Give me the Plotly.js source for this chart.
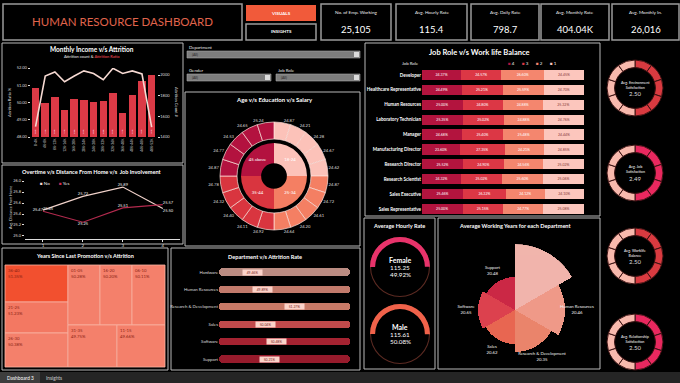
<!DOCTYPE html>
<html><head><meta charset="utf-8">
<script src="https://cdn.plot.ly/plotly-3.0.1.min.js"></script>
<style>html,body{margin:0;padding:0;background:#000;overflow:hidden}#chart{width:680px;height:383px}</style>
</head><body><div id="chart"></div>
<script>
// ---------------- DATA ----------------
const kpiLabels = ['No. of Emp. Working', 'Avg. Hourly Rate', 'Avg. Daily Rate', 'Avg. Monthly Rate', 'Avg. Monthly In.'];
const kpiValues = ['25,105', '115.4', '798.7', '404.04K', '26,016'];

const incomeBins = ['0-4K','4K-8K','8K-12K','12K-16K','16K-20K','20K-24K','24K-28K','28K-32K','32K-36K','36K-40K','40K-44K','44K-48K','48K-52K'];
const attritionRatio = [50.82, 49.95, 50.30, 49.57, 50.18, 50.14, 50.03, 50.10, 50.53, 49.37, 50.42, 51.25, 51.59];
const attritionCount = [1500, 1990, 2030, 1935, 1990, 2040, 2015, 1955, 2065, 2015, 2040, 2010, 1495];

const jobInvolvement = [1, 2, 3, 4];
const distanceNo = [25.47, 25.72, 25.89, 25.50];
const distanceYes = [25.45, 25.25, 25.51, 25.57];

const promoYears = ['36-40', '21-25', '26-30', '01-05', '16-20', '06-10', '31-35', '11-15'];
const promoAttrition = [51.35, 51.23, 50.38, 50.28, 50.20, 50.11, 49.75, 49.66];
const promoEmployees = [2330, 1950, 2140, 1920, 1920, 1980, 2060, 2020];

const departments = ['Hardware', 'Human Resources', 'Research & Development', 'Sales', 'Software', 'Support'];
const deptAttrition = [49.46, 49.89, 51.27, 50.04, 50.48, 50.21];
const deptWorkYears = [20.48, 20.46, 20.35, 20.62, 20.65, 20.48];
const deptWedgeSize = [66, 50, 42, 34, 37, 33];

const ageGroups = ['18-24', '25-34', '35-44', '45 above'];
const ageShare = [25, 25, 25, 25];
const eduSalary = ['24.87','24.21','24.28','24.67','24.62',
                   '24.87','24.72','24.61','24.20','24.64',
                   '24.92','24.11','24.40','24.32','24.78',
                   '24.87','24.77','24.53','24.65','25.24'];
const eduShare = [5,5,5,5,5, 5,5,5,5,5, 5,5,5,5,5, 5,5,5,5,5];

const jobRoles = ['Developer','Healthcare Representative','Human Resources','Laboratory Technician','Manager','Manufacturing Director','Research Director','Research Scientist','Sales Executive','Sales Representative'];
const wlb4 = [24.37, 24.49, 25.00, 25.35, 24.68, 23.60, 25.52, 24.32, 25.46, 25.00];
const wlb3 = [24.57, 25.21, 24.80, 25.02, 25.40, 27.35, 24.90, 25.02, 26.32, 25.15];
const wlb2 = [26.60, 25.59, 24.88, 24.88, 25.48, 24.21, 24.56, 25.60, 24.12, 24.77];
const wlb1 = [24.45, 24.70, 25.32, 24.76, 24.44, 24.85, 25.02, 25.06, 24.10, 25.08];

const genders = ['Female', 'Male'];
const genderHourly = [115.25, 115.61];
const genderShare = [49.92, 50.08];

const satLabels = ['Avg. Environment<br>Satisfaction', 'Avg. Job<br>Satisfaction', 'Avg. Worklife<br>Balance', 'Avg. Relationship<br>Satisfaction'];
const satValues = [2.50, 2.49, 2.50, 2.50];

// ---------------- HELPERS ----------------
const W = 680, H = 383;
const px = x => x / W, py = y => 1 - y / H;
const dx = (a, b) => [a / W, b / W];
const dy = (top, bot) => [1 - bot / H, 1 - top / H];
const FONT = 'Lato, "Open Sans", sans-serif';
const shapes = [], annotations = [];
function box(x0, y0, x1, y1, o = {}) {
  shapes.push({type: 'rect', xref: 'paper', yref: 'paper', x0: px(x0), x1: px(x1), y0: py(y1), y1: py(y0),
    line: {color: o.line || '#b8b8b8', width: o.lw === undefined ? 1 : o.lw}, fillcolor: o.fill || 'rgba(0,0,0,0)', layer: 'below'});
}
function txt(x, y, text, size, color, o = {}) {
  annotations.push({xref: 'paper', yref: 'paper', x: px(x), y: py(y), text: text, showarrow: false,
    font: {family: FONT, size: size, color: color || '#fff', weight: o.weight || 'normal'},
    xanchor: o.xanchor || 'center', yanchor: o.yanchor || 'middle', textangle: o.angle || 0, align: o.align || 'center'});
}
const traces = [];

// ---------------- HEADER ----------------
box(3, 4, 242, 40, {line: '#9a9a9a', lw: 1.5});
txt(122, 22, 'HUMAN RESOURCE DASHBOARD', 11.5, '#e0644c');
box(246, 5, 316, 21, {fill: '#f15a3a', lw: 0});
txt(281, 13, 'VISUALS', 4.5, '#fff', {weight: 'bold'});
box(246, 24, 316, 40, {line: '#9a9a9a', lw: 1.5});
txt(281, 32, 'INSIGHTS', 4.5, '#fff', {weight: 'bold'});
const kpiX = [[321, 391], [396, 467], [471, 539], [541, 609], [612, 679]];
kpiLabels.forEach((l, i) => {
  box(kpiX[i][0], 4, kpiX[i][1], 40, {line: '#9a9a9a', lw: 1.5});
  const c = (kpiX[i][0] + kpiX[i][1]) / 2;
  txt(c, 12, l, 4.6, '#eee');
  txt(c, 29, kpiValues[i], 9.5, '#fff');
});

// ---------------- MONTHLY INCOME ----------------
box(2, 43, 183, 163);
txt(92, 50, 'Monthly Income v/s Attrition', 6.5, '#fff', {weight: 'bold'});
txt(92, 57, 'Attrition count &amp; <span style="color:#ff4d5a">Attrition Ratio</span>', 4, '#eee');
txt(9, 102, 'Attrition Ratio %', 4, '#ddd', {angle: -90});
txt(177, 102, 'Attrition Count #', 4, '#ddd', {angle: 90});
const RATIO_RANGE = [48, 52];
traces.push({type: 'bar', x: incomeBins, y: attritionRatio.map(v => v - RATIO_RANGE[0]), base: RATIO_RANGE[0],
  xaxis: 'x', yaxis: 'y', width: 0.78, marker: {color: '#db3a46'},
  text: attritionRatio.map(v => v.toFixed(2) + '%'), textposition: 'inside', insidetextanchor: 'start', textangle: -90,
  textfont: {size: 3.3, color: '#fde', family: FONT}, cliponaxis: true});
traces.push({type: 'scatter', mode: 'lines', x: incomeBins, y: attritionCount, xaxis: 'x', yaxis: 'y2',
  line: {color: '#f6d9d2', width: 1.6}});

// ---------------- OVERTIME ----------------
box(2, 165, 183, 244);
txt(92, 171, 'Overtime v/s Distance From Home v/s  Job Involvement', 5.6, '#fff', {weight: 'bold'});
txt(10, 208, 'Avg. Distance From Home', 3.8, '#ddd', {angle: -90});
txt(38, 183, '<span style="color:#f6d6ce">■</span> No', 4.5, '#eee', {xanchor: 'left'});
txt(57, 183, '<span style="color:#d02d58">■</span> Yes', 4.5, '#eee', {xanchor: 'left'});
traces.push({type: 'scatter', mode: 'lines+text', x: jobInvolvement, y: distanceNo, xaxis: 'x3', yaxis: 'y3',
  line: {color: '#f2d3cb', width: 1.2}, text: distanceNo.map(v => v.toFixed(2)),
  textposition: ['middle left', 'top center', 'top center', 'bottom right'], textfont: {size: 4, color: '#eee', family: FONT}, cliponaxis: false});
traces.push({type: 'scatter', mode: 'lines+text', x: jobInvolvement, y: distanceYes, xaxis: 'x3', yaxis: 'y3',
  line: {color: '#b32a4e', width: 1.2}, text: distanceYes.map(v => v.toFixed(2)),
  textposition: ['top right', 'bottom center', 'top center', 'top right'], textfont: {size: 4, color: '#eee', family: FONT}, cliponaxis: false});

// ---------------- FILTERS ----------------
txt(187, 47, 'Department', 4.3, '#eee', {xanchor: 'left'});
box(187, 51, 360, 58, {fill: '#7d7d7d', line: '#aaa', lw: 0.6});
box(354, 52, 359, 57, {fill: '#dcdcdc', lw: 0});
txt(190, 54.5, '(All)', 3.5, '#222', {xanchor: 'left'});
txt(187, 70, 'Gender', 4.3, '#eee', {xanchor: 'left'});
box(187, 74, 271, 81, {fill: '#7d7d7d', line: '#aaa', lw: 0.6});
box(265, 75, 270, 80, {fill: '#dcdcdc', lw: 0});
txt(190, 77.5, '(All)', 3.5, '#222', {xanchor: 'left'});
txt(276, 70, 'Job Role', 4.3, '#eee', {xanchor: 'left'});
box(276, 74, 360, 81, {fill: '#7d7d7d', line: '#aaa', lw: 0.6});
box(354, 75, 359, 80, {fill: '#dcdcdc', lw: 0});
txt(279, 77.5, '(All)', 3.5, '#222', {xanchor: 'left'});

// ---------------- SUNBURST (pies) ----------------
box(185, 92, 360, 246);
txt(274, 100, 'Age v/s Education v/s Salary', 6, '#fff', {weight: 'bold'});
const ageColors = ['#fcc2b9', '#f47f63', '#d9353f', '#b3123f'];
traces.push({type: 'pie', values: eduShare, text: eduSalary, textinfo: 'text', textposition: 'outside', sort: false,
  direction: 'clockwise', rotation: 0, hole: 0.685, domain: {x: dx(220, 328), y: dy(122, 230)},
  marker: {colors: eduShare.map((v, i) => ageColors[Math.floor(i / 5)]), line: {color: '#fde0da', width: 0.7}},
  outsidetextfont: {size: 4.2, color: '#ddd', family: FONT}, showlegend: false, hoverinfo: 'skip'});
traces.push({type: 'pie', values: ageShare, labels: ageGroups, text: ageGroups, textinfo: 'text', textposition: 'inside', sort: false,
  direction: 'clockwise', rotation: 0, hole: 0.39, domain: {x: dx(241, 307), y: dy(143, 209)},
  marker: {colors: ageColors, line: {width: 0}}, insidetextorientation: 'horizontal',
  insidetextfont: {size: 4.3, color: '#fff', family: FONT}, showlegend: false, hoverinfo: 'skip'});

// ---------------- JOB ROLE vs WLB ----------------
box(365, 43, 600, 216);
txt(479, 52, 'Job Role v/s Work life Balance', 7.5, '#fff', {weight: 'bold'});
txt(410, 63, 'Job Role', 4.3, '#eee');
const wlbColors = ['#b3143e', '#dc3745', '#f4866e', '#fcc6bd'];
const wlbText = ['#fff', '#fff', '#fff', '#8a3a3a'];
[['4', wlb4], ['3', wlb3], ['2', wlb2], ['1', wlb1]].forEach((s, k) => {
  traces.push({type: 'bar', orientation: 'h', y: jobRoles, x: s[1], name: s[0], xaxis: 'x5', yaxis: 'y5', width: 0.68,
    marker: {color: wlbColors[k], line: {width: 0}}, text: s[1].map(v => v.toFixed(2) + '%'), textposition: 'inside',
    insidetextanchor: 'middle', textangle: 0, textfont: {size: 4.3, color: wlbText[k], family: FONT}});
});
['4', '3', '2', '1'].forEach((n, k) => {
  txt(506 + k * 14, 63, '<span style="color:' + wlbColors[k] + '">■</span> ' + n, 4.5, '#eee', {xanchor: 'left'});
});

// ---------------- YEARS SINCE PROMOTION (treemap) ----------------
box(2, 248, 168, 370);
txt(85, 256, 'Years Since Last Promotion v/s Attrition', 5.5, '#fff', {weight: 'bold'});
const promoColors = promoAttrition.map(v => v > 51.3 ? '#f2502f' : (v > 51 ? '#f37862' : '#f4806b'));
traces.push({type: 'treemap', labels: promoYears, parents: promoYears.map(() => ''), values: promoEmployees,
  customdata: promoAttrition, texttemplate: '%{label}<br>%{customdata:.2f}%', textposition: 'top left',
  textfont: {size: 4.3, color: '#8c2415', family: FONT}, domain: {x: dx(5, 165), y: dy(265, 367)},
  marker: {colors: promoColors, line: {color: '#f9b2a2', width: 0.8}, pad: {t: 0, l: 0, r: 0, b: 0}},
  tiling: {pad: 0, packing: 'squarify', squarifyratio: 2}, pathbar: {visible: false}, hoverinfo: 'skip', sort: false});

// ---------------- DEPARTMENT vs ATTRITION ----------------
box(171, 248, 360, 370);
txt(265, 256, 'Department v/s Attrition Rate', 5.6, '#fff', {weight: 'bold'});
const DEPT_RANGE = [48, 53.7];
const deptColors = ['#bb8c82', '#c27a6b', '#c87a67', '#c04a4b', '#a52331', '#971b2c'];
traces.push({type: 'bar', orientation: 'h', y: departments, x: departments.map(() => DEPT_RANGE[1] - DEPT_RANGE[0]),
  base: DEPT_RANGE[0], xaxis: 'x4', yaxis: 'y4', width: 0.42, marker: {color: deptColors, cornerradius: 4, line: {width: 0}}});
departments.forEach((d, i) => {
  annotations.push({xref: 'x4', yref: 'y4', x: deptAttrition[i], y: d, text: deptAttrition[i].toFixed(2) + '%', showarrow: false,
    font: {family: FONT, size: 3.4, color: '#7a1f1f'}, bgcolor: '#fbd3c9', width: 19, height: 5, borderpad: 0});
});

// ---------------- AVERAGE HOURLY RATE (gauges) ----------------
box(364, 218, 435, 369);
txt(399, 225, 'Average Hourly Rate', 5.6, '#fff', {weight: 'bold'});
const gaugeColors = ['#e8336b', '#f0624a'];
const gaugeCY = [267, 334];
genders.forEach((g, i) => {
  const c = gaugeCY[i];
  const dom = {x: dx(370, 430), y: dy(c - 30, c + 30)};
  traces.push({type: 'pie', values: [100], hole: 0.965, domain: dom, sort: false,
    textinfo: 'none', marker: {colors: ['#5b2a22'], line: {width: 0}}, showlegend: false, hoverinfo: 'skip'});
  traces.push({type: 'pie', values: [genderShare[i], 100 - genderShare[i]], hole: 0.83, domain: dom, sort: false,
    direction: 'clockwise', rotation: -90, textinfo: 'none',
    marker: {colors: [gaugeColors[i], 'rgba(0,0,0,0)'], line: {width: 0}}, showlegend: false, hoverinfo: 'skip'});
  txt(400, c - 7, g, 7, '#fff', {weight: 'bold'});
  txt(400, c + 0.5, genderHourly[i].toFixed(2), 6.3, '#fff');
  txt(400, c + 7.5, genderShare[i].toFixed(2) + '%', 6.3, '#fff');
});

// ---------------- AVERAGE WORKING YEARS (polar) ----------------
box(438, 218, 600, 369);
txt(515, 225, 'Average Working Years for each Department', 5.6, '#fff', {weight: 'bold'});
const polarColors = ['#fbbcb3', '#f9a08e', '#f48a70', '#f26b55', '#e54452', '#d42a48'];
const thetas = departments.map((d, i) => 30 + i * 60);
traces.push({type: 'barpolar', r: deptWedgeSize, theta: thetas, width: departments.map(() => 60), subplot: 'polar',
  marker: {color: polarColors, line: {width: 0}}, opacity: 0.96, hoverinfo: 'skip'});
traces.push({type: 'scatterpolar', mode: 'text', r: deptWedgeSize.map(v => v + 12), theta: thetas, subplot: 'polar',
  text: departments.map((d, i) => d + '<br>' + deptWorkYears[i].toFixed(2)), cliponaxis: false,
  textfont: {size: 4.3, color: '#eee', family: FONT}, hoverinfo: 'skip'});

// ---------------- SATISFACTION DONUTS ----------------
const satColors = ['#d93a40', '#e9285f', '#d93a40', '#e9285f'];
const satCY = [88, 173, 256, 342];
const SEG = 10, SCALE_MAX = 5;
satValues.forEach((v, i) => {
  const c = satCY[i];
  const segs = Array.from({length: SEG}, () => SCALE_MAX / SEG);
  traces.push({type: 'pie', values: segs, sort: false, direction: 'clockwise', rotation: 0, hole: 0.73,
    domain: {x: dx(607, 663), y: dy(c - 28, c + 28)}, textinfo: 'none',
    marker: {colors: segs.map((s, k) => ((k + 0.5) * s < v ? satColors[i] : '#f8b9ad')), line: {color: '#3b1212', width: 1}},
    showlegend: false, hoverinfo: 'skip'});
  txt(635, c - 3.5, satLabels[i], 3.7, '#fff');
  txt(635, c + 5.5, v.toFixed(2), 6, '#ddd');
});

// ---------------- BOTTOM BAR ----------------
box(0, 372, 680, 383, {fill: '#252525', lw: 0});
box(0, 372, 40, 383, {fill: '#3d3d3d', lw: 0});
txt(20, 377.5, 'Dashboard 3', 4.8, '#fff');
txt(54, 377.5, 'Insights', 4.8, '#ccc');

// ---------------- LAYOUT ----------------
const axBase = {showgrid: false, zeroline: false, tickfont: {size: 4, color: '#ddd', family: FONT}};
const layout = {
  width: W, height: H, margin: {l: 0, r: 0, t: 0, b: 0}, paper_bgcolor: '#000', plot_bgcolor: '#000',
  showlegend: false, barmode: 'stack', hovermode: false, font: {family: FONT, color: '#fff'},
  xaxis: Object.assign({}, axBase, {domain: dx(30.7, 156.5), type: 'category', tickangle: -90, tickfont: {size: 3.3, color: '#ddd', family: FONT}, anchor: 'y', ticks: ''}),
  yaxis: Object.assign({}, axBase, {domain: dy(68, 137), range: RATIO_RANGE, tickvals: [48, 49, 50, 51, 52], tickformat: '.2f', ticksuffix: '%', ticks: 'outside', ticklen: 2, tickcolor: '#ddd', anchor: 'x'}),
  yaxis2: Object.assign({}, axBase, {overlaying: 'y', side: 'right', range: [1400, 2068], tickvals: [1400, 1600, 1800, 2000], ticks: 'outside', ticklen: 2, tickcolor: '#ddd', anchor: 'x'}),
  xaxis3: Object.assign({}, axBase, {domain: dx(25, 180), range: [0.55, 4.43], tickvals: jobInvolvement, showline: true, linecolor: '#ddd', linewidth: 1, ticks: 'outside', ticklen: 2, tickcolor: '#ddd', tickfont: {size: 4.5, color: '#ddd', family: FONT}, anchor: 'y3'}),
  yaxis3: Object.assign({}, axBase, {domain: dy(178, 239), range: [24.945, 26.055], tickvals: [25, 25.2, 25.4, 25.6, 25.8, 26], tickformat: '.1f', ticks: 'outside', ticklen: 2, tickcolor: '#ddd', anchor: 'x3'}),
  xaxis4: {domain: dx(219, 350), range: DEPT_RANGE, visible: false, anchor: 'y4'},
  yaxis4: Object.assign({}, axBase, {domain: dy(263.3, 367.7), type: 'category', autorange: 'reversed', ticks: '', tickfont: {size: 4.3, color: '#ddd', family: FONT}, anchor: 'x4'}),
  xaxis5: {domain: dx(422, 584), range: [0, 100], visible: false, anchor: 'y5'},
  yaxis5: Object.assign({}, axBase, {domain: dy(67.5, 216.5), type: 'category', autorange: 'reversed', ticks: '', tickfont: {size: 4.6, color: '#fff', family: FONT, weight: 'bold'}, anchor: 'x5'}),
  polar: {domain: {x: dx(449, 581), y: dy(244, 376)}, bgcolor: 'rgba(0,0,0,0)',
    radialaxis: {visible: false, range: [0, Math.max(...deptWedgeSize)]},
    angularaxis: {visible: false, rotation: 90, direction: 'clockwise'}},
  shapes: shapes, annotations: annotations
};
Plotly.newPlot('chart', traces, layout, {staticPlot: true, displayModeBar: false});
</script>
</body></html>
